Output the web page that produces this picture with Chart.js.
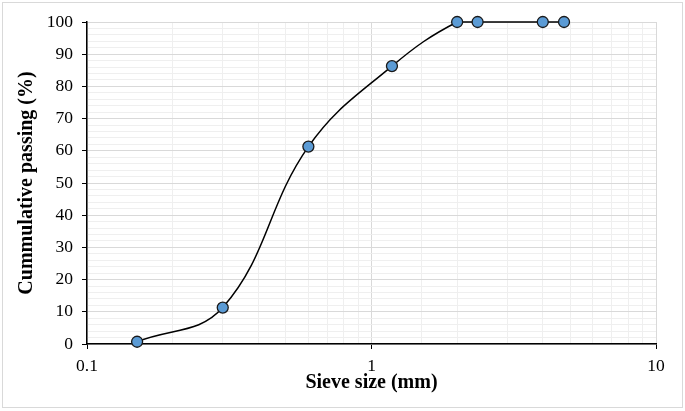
<!DOCTYPE html>
<html>
<head>
<meta charset="utf-8">
<script src="https://cdn.jsdelivr.net/npm/chart.js@4"></script>
<style>
  html, body { margin: 0; padding: 0; background: #fff; }
  #frame { position: absolute; left: 2px; top: 2px; width: 679px; height: 404px; border: 1.5px solid #d9d9d9; }
  #chart { position: absolute; left: 0; top: 0; }
</style>
</head>
<body>
<div id="frame"></div>
<canvas id="chart" width="685" height="411"></canvas>
<script>
// Sieve analysis data
const sieveSizes = [0.15, 0.3, 0.6, 1.18, 2, 2.36, 4, 4.75];
const passing = [0.7, 11.3, 61.3, 86.3, 100, 100, 100, 100];
const xTickLabels = ['0.1', '1', '10'];
const yTickLabels = [0, 10, 20, 30, 40, 50, 60, 70, 80, 90, 100];

const serif = "'Liberation Serif', 'Times New Roman', serif";

function isDecade(v) {
    const l = Math.log10(v);
    return Math.abs(l - Math.round(l)) < 1e-6;
}

new Chart(document.getElementById('chart'), {
    type: 'scatter',
    data: {
        datasets: [{
            data: sieveSizes.map((x, i) => ({ x: x, y: passing[i] })),
            showLine: true,
            borderColor: '#000',
            borderWidth: 1.5,
            tension: 0.4,
            pointRadius: 5.5,
            pointBackgroundColor: '#5b9bd5',
            pointBorderColor: '#1a1a1a',
            pointBorderWidth: 1.3,
            clip: false
        }]
    },
    options: {
        responsive: false,
        animation: false,
        layout: { padding: { left: 0, top: 22, right: 29, bottom: 0 } },
        plugins: { legend: { display: false }, tooltip: { enabled: false } },
        scales: {
            x: {
                type: 'logarithmic',
                min: 0.1,
                max: 10,
                afterFit: s => { s.height = 67; },
                border: { color: '#000', width: 1.5 },
                grid: {
                    color: c => isDecade(c.tick.value) ? '#d9d9d9' : '#efefef',
                    lineWidth: 1,
                    tickLength: 5,
                    tickColor: c => isDecade(c.tick.value) ? '#000' : 'rgba(0,0,0,0)'
                },
                ticks: {
                    autoSkip: false,
                    maxRotation: 0,
                    padding: 7,
                    color: '#000',
                    font: { family: serif, size: 17.5 },
                    callback: v => isDecade(v) ? xTickLabels[Math.round(Math.log10(v)) + 1] : ''
                },
                title: {
                    display: true,
                    text: 'Sieve size (mm)',
                    color: '#000',
                    font: { family: serif, size: 20, weight: 'bold' },
                    padding: { top: 0, bottom: 16 }
                }
            },
            y: {
                min: 0,
                max: 100,
                afterFit: s => { s.width = 87; },
                border: { color: '#000', width: 1.5 },
                grid: {
                    color: c => c.tick.value % 10 === 0 ? '#d9d9d9' : '#efefef',
                    lineWidth: 1,
                    tickLength: 5,
                    tickColor: c => c.tick.value % 10 === 0 ? '#000' : 'rgba(0,0,0,0)'
                },
                ticks: {
                    stepSize: 2,
                    autoSkip: false,
                    padding: 9,
                    color: '#000',
                    font: { family: serif, size: 17.5 },
                    callback: v => yTickLabels.includes(v) ? String(v) : ''
                },
                title: {
                    display: true,
                    text: 'Cummulative passing (%)',
                    color: '#000',
                    font: { family: serif, size: 20, weight: 'bold' },
                    padding: { top: 14.5, bottom: 0 }
                }
            }
        }
    }
});
</script>
</body>
</html>
